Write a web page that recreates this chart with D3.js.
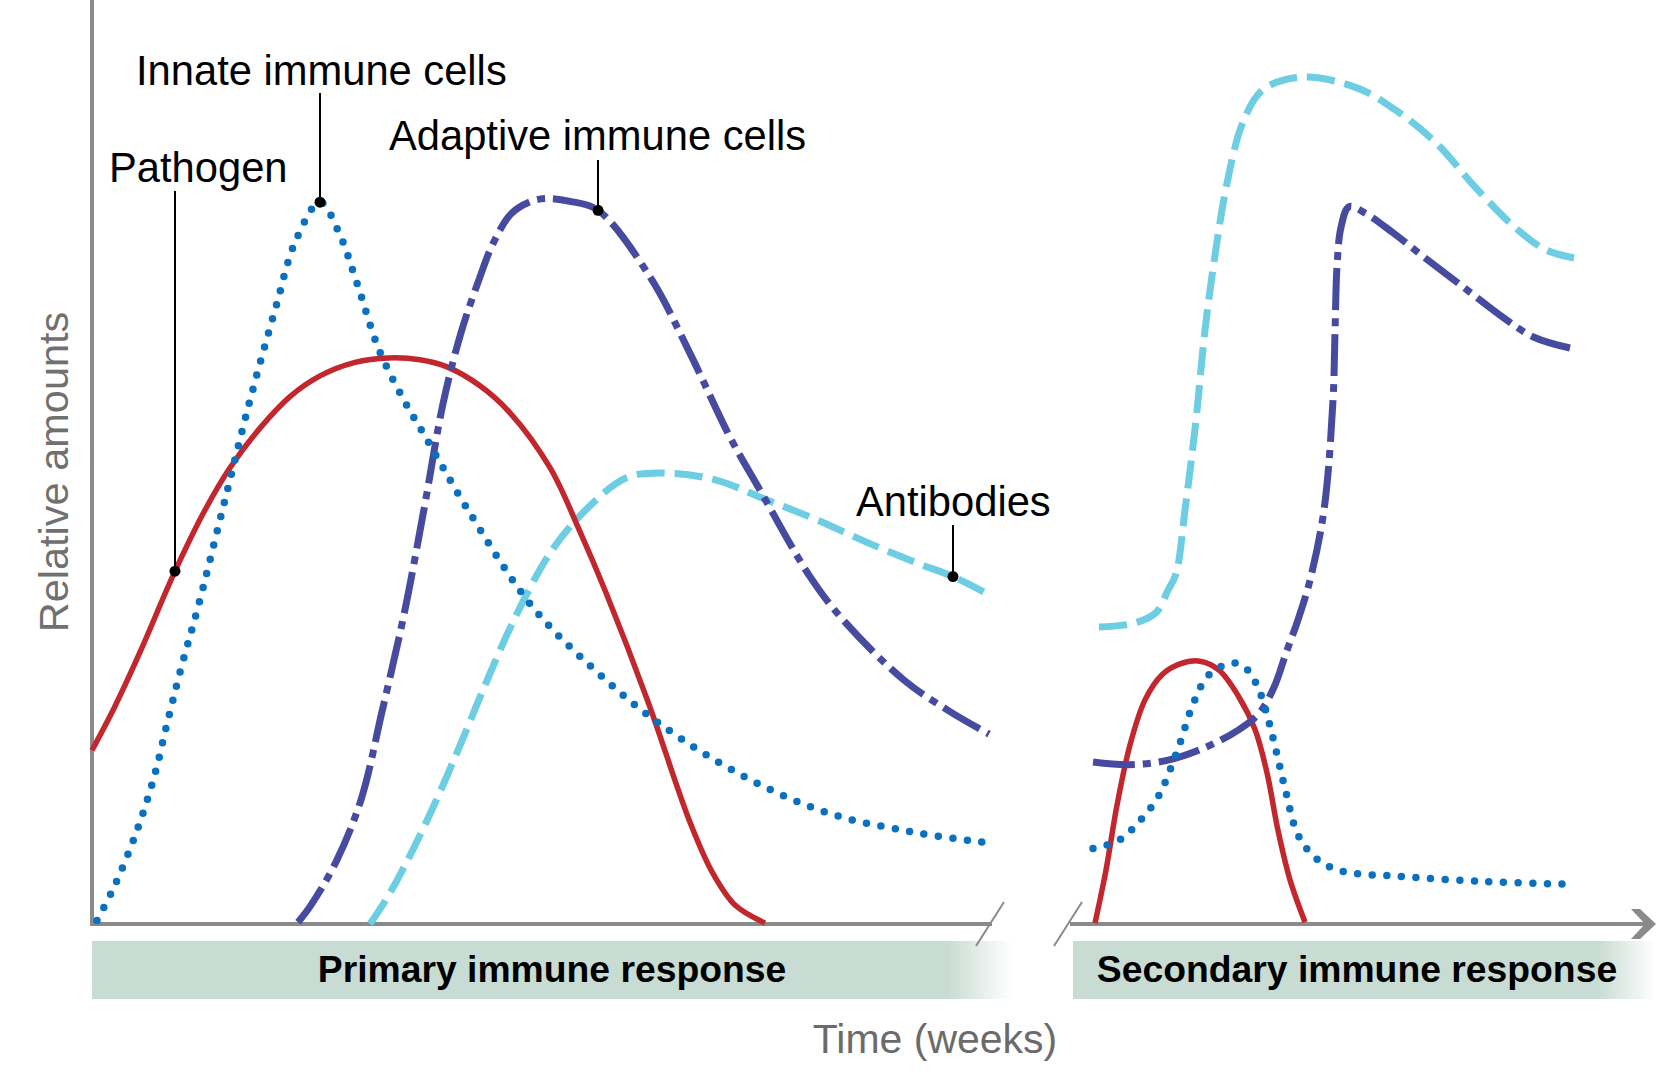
<!DOCTYPE html>
<html>
<head>
<meta charset="utf-8">
<script src="https://cdn.jsdelivr.net/npm/d3@7"></script>
<style>
  html, body { margin: 0; padding: 0; background: #ffffff; }
  svg { display: block; }
  text { font-family: "Liberation Sans", Arial, Helvetica, sans-serif; }
</style>
</head>
<body>
<svg id="chart" width="1667" height="1086"></svg>
<script>
// ---------- DATA (time in arbitrary units, relative amount 0-100) ----------
const seriesNames = ["Pathogen", "Innate immune cells", "Adaptive immune cells", "Antibodies"];
const phaseNames = ["Primary immune response", "Secondary immune response"];
const xAxisTitle = "Time (weeks)";
const yAxisTitle = "Relative amounts";

const pathogenPrimary = [
  [0, 19.3], [2.3, 24.2], [4.8, 30.2], [8.3, 39.2], [11.3, 46.0], [13.8, 50.7],
  [16.8, 55.1], [19.8, 58.6], [22.8, 60.9], [26.3, 62.4], [29.6, 62.9], [32.8, 62.7],
  [35.5, 61.9], [38.8, 59.8], [41.8, 56.8], [45.8, 50.7], [48.8, 43.6], [51.4, 36.8],
  [55.6, 24.7], [59.8, 11.3], [62.0, 5.8], [64.3, 2.1], [67.3, 0.1]
];
const innatePrimary = [
  [0.5, 0.4], [2.2, 4.1], [4.4, 10.1], [6.2, 16.3], [7.6, 22.7], [9.0, 28.8],
  [10.6, 35.2], [13.2, 46.7], [15.8, 58.2], [18.3, 68.2], [20.4, 76.0], [22.8, 80.2],
  [24.7, 76.8], [26.5, 71.2], [28.7, 63.8], [31.2, 58.2], [33.3, 54.2], [37.6, 46.0],
  [44.0, 35.3], [50.3, 28.2], [56.7, 22.3], [65.2, 16.4], [73.7, 12.3], [82.2, 10.2],
  [89.7, 9.0]
];
const adaptivePrimary = [
  [20.6, 0.2], [21.9, 2.1], [24.4, 6.9], [26.9, 13.8], [29.0, 23.6], [31.2, 34.4],
  [33.3, 46.7], [35.1, 57.8], [36.9, 65.7], [38.7, 71.6], [40.1, 75.6], [41.9, 78.9],
  [43.7, 80.2], [45.3, 80.6], [47.8, 80.3], [50.6, 79.3], [55.8, 71.9], [59.8, 63.4],
  [63.8, 54.1], [66.8, 48.2], [71.8, 38.6], [75.1, 33.8], [81.2, 27.1], [85.8, 23.6],
  [89.7, 21.1]
];
const antibodiesPrimary = [
  [27.8, 0], [29.4, 2.7], [31.2, 6.3], [34.0, 12.7], [36.9, 20.1], [39.4, 26.8],
  [42.2, 33.8], [45.8, 41.2], [49.1, 45.7], [53.5, 49.6], [57.5, 50.1], [62.5, 49.3],
  [67.5, 47.1], [72.5, 44.9], [77.5, 42.4], [82.5, 40.1], [86.1, 38.6], [89.7, 36.6]
];

const pathogenSecondary = [
  [100.3, 0.1], [101.4, 6.0], [102.5, 13.2], [103.8, 19.9], [105.3, 24.9], [107.0, 27.7],
  [108.8, 28.9], [110.8, 29.2], [112.7, 28.2], [114.7, 25.2], [116.3, 21.6], [117.5, 16.8],
  [118.6, 10.4], [119.8, 4.9], [121.3, 0.2]
];
const innateSecondary = [
  [100.1, 8.4], [102.7, 9.3], [104.9, 11.6], [106.6, 14.1], [107.8, 17.1], [108.8, 20.1],
  [110.2, 24.7], [111.7, 27.7], [114.1, 29.0], [115.5, 28.3], [116.7, 26.0], [117.7, 22.4],
  [118.4, 19.3], [119.4, 14.6], [120.6, 9.9], [122.4, 7.3], [124.9, 5.9], [130.6, 5.3],
  [139.5, 4.7], [148.2, 4.4]
];
const adaptiveSecondary = [
  [100.1, 18.0], [103.7, 17.7], [107.6, 18.2], [111.5, 19.7], [114.7, 21.6], [116.7, 23.4],
  [118.2, 26.3], [119.4, 30.1], [120.6, 33.8], [121.8, 38.2], [123.2, 46.0], [124.1, 58.2],
  [124.3, 65.7], [124.5, 73.0], [124.9, 77.4], [125.7, 79.7], [127.3, 79.0], [130.1, 76.8],
  [133.2, 74.1], [137.1, 70.8], [141.1, 67.4], [144.2, 65.2], [147.8, 64.0]
];
const antibodiesSecondary = [
  [100.7, 33.0], [104.1, 33.4], [106.4, 34.6], [107.6, 37.1], [108.4, 38.9], [109.3, 46.0],
  [110.4, 56.0], [111.3, 66.0], [112.3, 74.3], [113.5, 82.3], [115.1, 89.1], [117.1, 92.7],
  [121.0, 94.1], [126.5, 92.9], [130.4, 90.4], [134.4, 86.8], [138.3, 81.9], [142.3, 77.4],
  [145.4, 74.9], [148.2, 74.0]
];

// label callouts: time at which each series is pointed at (primary response)
const calloutTime = [8.3, 22.8, 50.6, 86.1];

// ---------- LAYOUT / STYLE ----------
const W = 1667, H = 1086;
const xScale = d3.scaleLinear().domain([0, 156.4]).range([92, 1656]);
const yScale = d3.scaleLinear().domain([0, 100]).range([924, 24]);
const axisY = yScale(0);
const axisBreak = [90, 97.8];
const arrowEnd = 156.4;

const styles = [
  { color: "#c1272d", width: 5.5, dash: null, cap: "butt" },
  { color: "#0a70bf", width: 7.5, dash: "0 14.6", cap: "round" },
  { color: "#474ba0", width: 7, dash: "42 8 8 8", cap: "butt" },
  { color: "#6dcde2", width: 7, dash: "28 10", cap: "butt" }
];
const labelPos = [
  { x: 109, y: 182, top: 191 },
  { x: 136, y: 85, top: 93 },
  { x: 389, y: 150, top: 160 },
  { x: 856, y: 516, top: 525 }
];

const svg = d3.select("#chart");
const defs = svg.append("defs");

function bandGradient(id, fadeStart) {
  const g = defs.append("linearGradient").attr("id", id)
    .attr("x1", "0").attr("x2", "1").attr("y1", "0").attr("y2", "0");
  g.append("stop").attr("offset", 0).attr("stop-color", "#c9dcd3");
  g.append("stop").attr("offset", fadeStart).attr("stop-color", "#c9dcd3");
  g.append("stop").attr("offset", 1).attr("stop-color", "#c9dcd3").attr("stop-opacity", 0);
}
bandGradient("band1", 0.93);
bandGradient("band2", 0.90);

// phase bands
const bands = [
  { x0: 92, x1: 1012, grad: "band1" },
  { x0: 1073, x1: 1656, grad: "band2" }
];
svg.selectAll("rect.band").data(bands).join("rect")
  .attr("class", "band")
  .attr("x", d => d.x0).attr("y", 941)
  .attr("width", d => d.x1 - d.x0).attr("height", 58)
  .attr("fill", d => `url(#${d.grad})`);
svg.selectAll("text.band").data(bands).join("text")
  .attr("class", "band")
  .attr("x", (d, i) => i === 0 ? (92 + 1012) / 2 : 1357)
  .attr("y", 982)
  .attr("text-anchor", "middle")
  .attr("font-size", 37.3).attr("font-weight", "bold").attr("fill", "#000")
  .text((d, i) => phaseNames[i]);

// axes
const axisColor = "#8a8a8a";
svg.append("line").attr("x1", xScale(0)).attr("x2", xScale(0))
  .attr("y1", 0).attr("y2", axisY + 2)
  .attr("stroke", axisColor).attr("stroke-width", 4);
svg.append("line").attr("x1", xScale(0) - 2).attr("x2", xScale(axisBreak[0]))
  .attr("y1", axisY).attr("y2", axisY)
  .attr("stroke", axisColor).attr("stroke-width", 4);
svg.append("line").attr("x1", xScale(axisBreak[1])).attr("x2", xScale(arrowEnd) - 6)
  .attr("y1", axisY).attr("y2", axisY)
  .attr("stroke", axisColor).attr("stroke-width", 4);
// arrow head (chevron)
const tip = xScale(arrowEnd);
svg.append("path")
  .attr("d", `M${tip - 25},${axisY - 15} L${tip - 16},${axisY - 15} L${tip},${axisY} L${tip - 16},${axisY + 15} L${tip - 25},${axisY + 15} L${tip - 11},${axisY} Z`)
  .attr("fill", axisColor);
// break marks
axisBreak.forEach(b => {
  const cx = xScale(b) - 2;
  svg.append("line")
    .attr("x1", cx + 14).attr("y1", axisY - 22)
    .attr("x2", cx - 14).attr("y2", axisY + 22)
    .attr("stroke", axisColor).attr("stroke-width", 2);
});

// axis titles
svg.append("text")
  .attr("transform", `translate(68, 472) rotate(-90)`)
  .attr("text-anchor", "middle")
  .attr("font-size", 41.5).attr("fill", "#707070")
  .text(yAxisTitle);
svg.append("text")
  .attr("x", 935).attr("y", 1053)
  .attr("text-anchor", "middle")
  .attr("font-size", 41).attr("fill", "#6b6b6b")
  .text(xAxisTitle);

// curves
const line = d3.line()
  .x(d => xScale(d[0])).y(d => yScale(d[1]))
  .curve(d3.curveCatmullRom.alpha(0.5));

const segments = [
  [pathogenPrimary, pathogenSecondary],
  [innatePrimary, innateSecondary],
  [adaptivePrimary, adaptiveSecondary],
  [antibodiesPrimary, antibodiesSecondary]
];
const drawOrder = [3, 0, 2, 1];
const primaryPaths = [];
drawOrder.forEach(i => {
  const s = styles[i];
  segments[i].forEach((data, k) => {
    const p = svg.append("path")
      .attr("d", line(data))
      .attr("fill", "none")
      .attr("stroke", s.color)
      .attr("stroke-width", s.width)
      .attr("stroke-linecap", s.cap)
      .attr("stroke-dasharray", s.dash);
    if (k === 0) primaryPaths[i] = p.node();
  });
});

// find point on a path at given x (pixels)
function pointAtX(node, px) {
  const L = node.getTotalLength();
  let lo = 0, hi = L;
  for (let it = 0; it < 40; it++) {
    const mid = (lo + hi) / 2;
    const pt = node.getPointAtLength(mid);
    if (pt.x < px) lo = mid; else hi = mid;
  }
  return node.getPointAtLength((lo + hi) / 2);
}

// callouts
seriesNames.forEach((name, i) => {
  const px = xScale(calloutTime[i]);
  const pt = pointAtX(primaryPaths[i], px);
  svg.append("line")
    .attr("x1", pt.x).attr("x2", pt.x)
    .attr("y1", labelPos[i].top).attr("y2", pt.y)
    .attr("stroke", "#000").attr("stroke-width", 2);
  svg.append("circle")
    .attr("cx", pt.x).attr("cy", pt.y).attr("r", 5.5)
    .attr("fill", "#000");
  svg.append("text")
    .attr("x", labelPos[i].x).attr("y", labelPos[i].y)
    .attr("font-size", 41.7).attr("fill", "#000")
    .text(name);
});
</script>
</body>
</html>
